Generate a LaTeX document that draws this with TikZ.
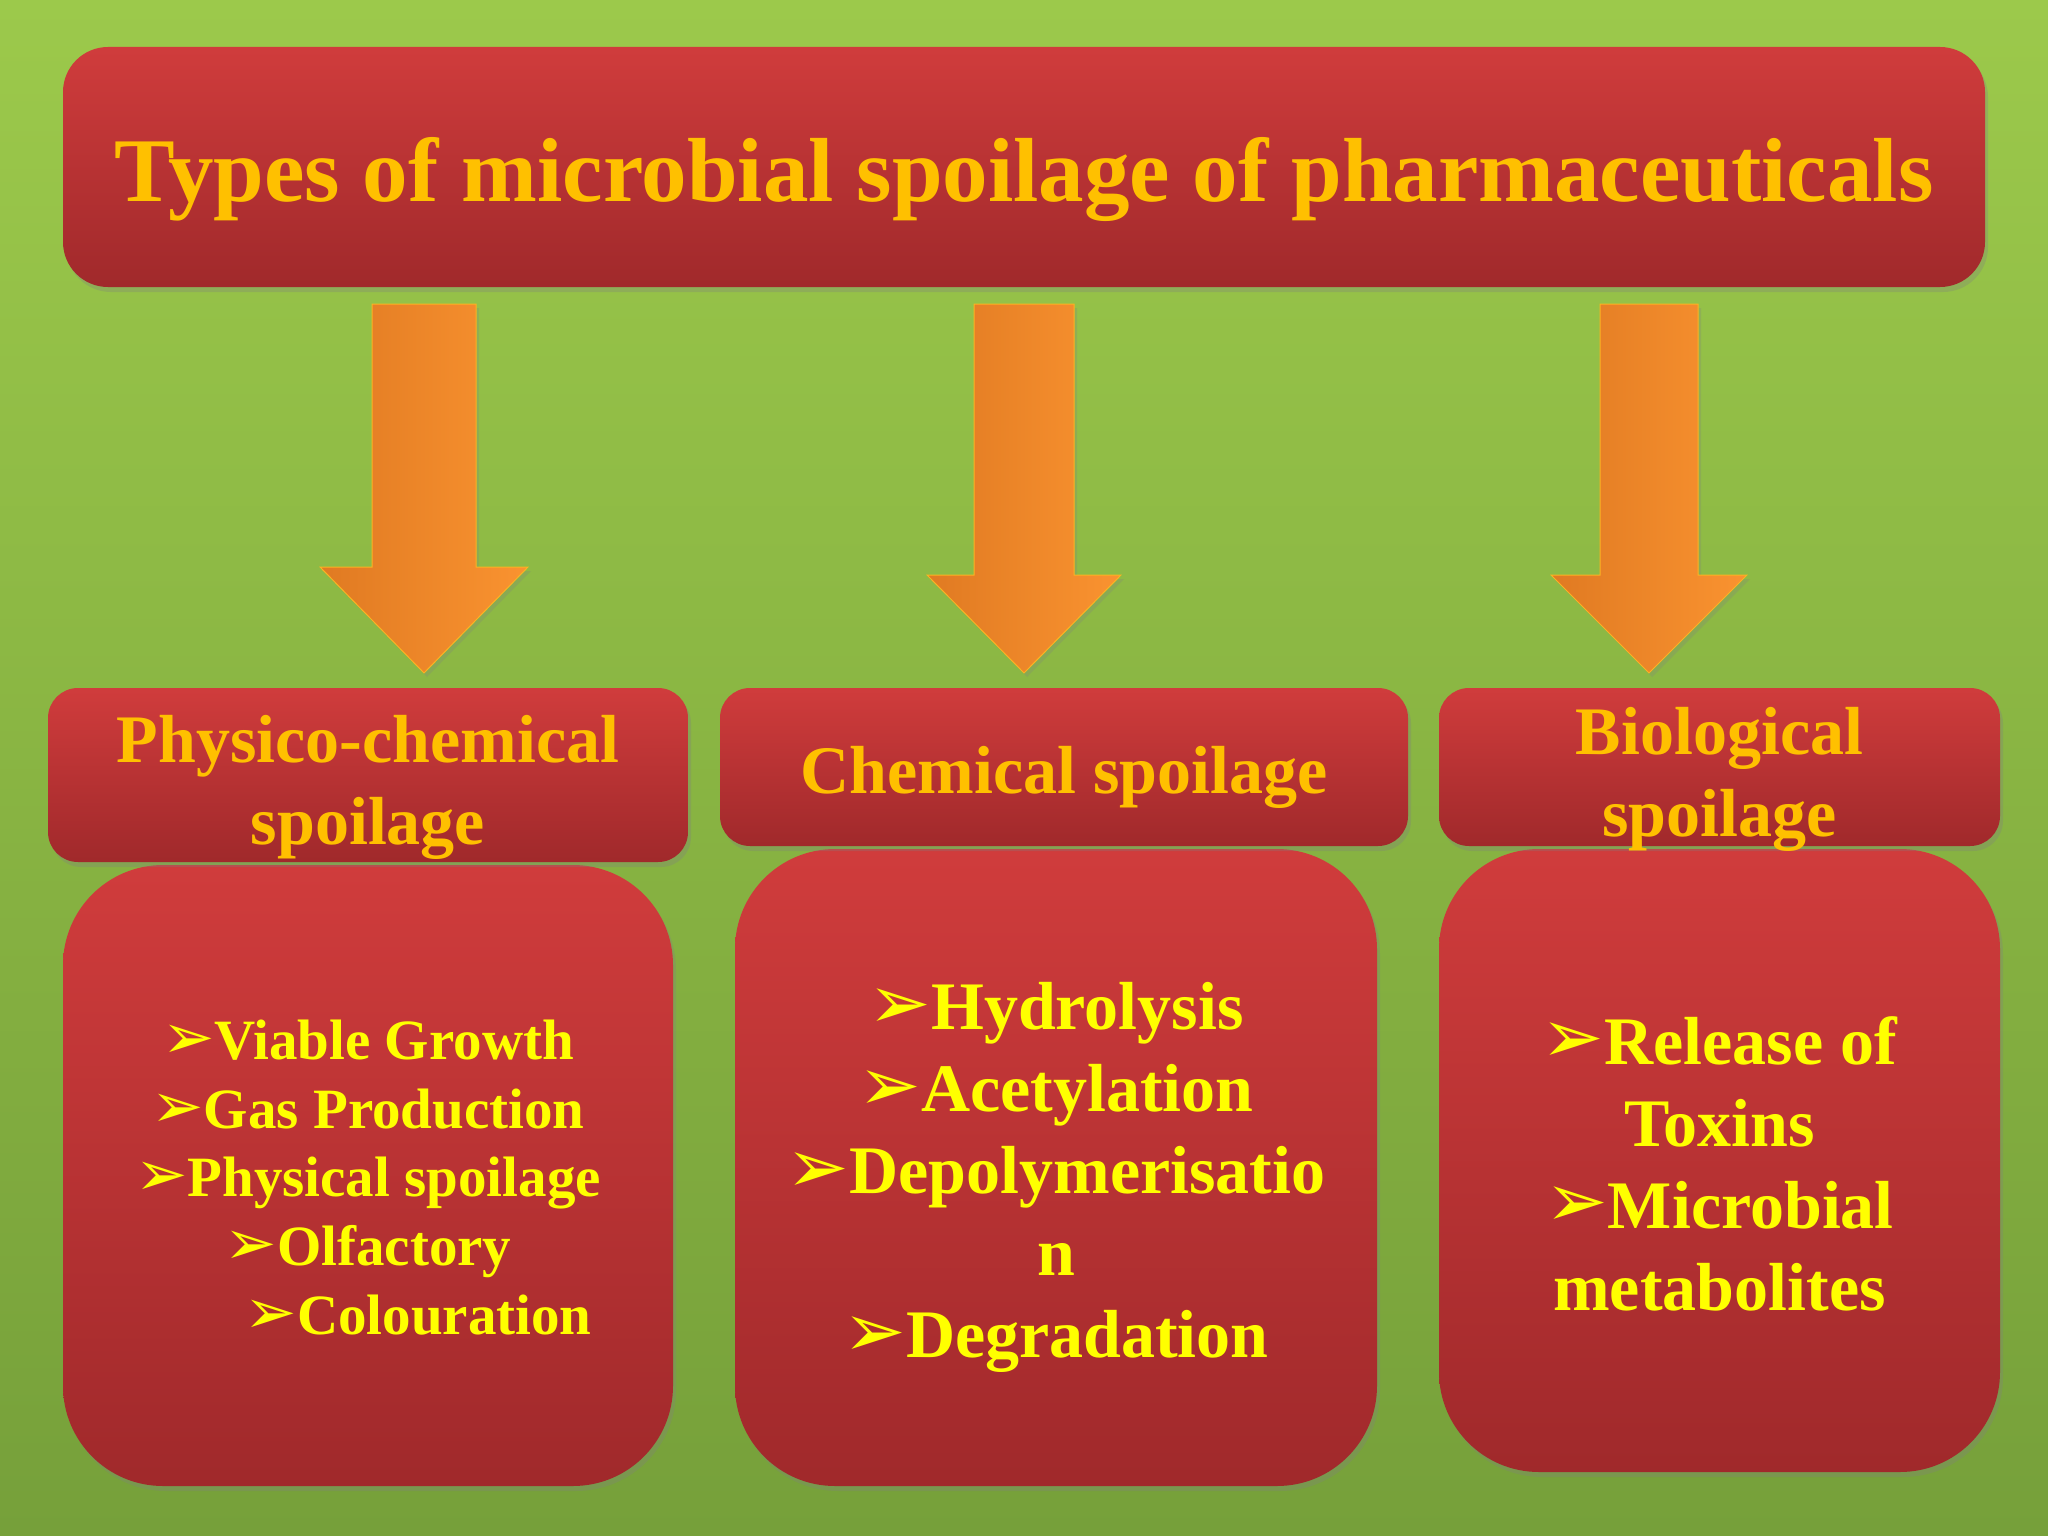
\documentclass[tikz,border=0pt]{standalone}
\usepackage{fontspec}
\usepackage{graphicx}
\setmainfont{Liberation Serif}
\newfontfamily\dingfont{DejaVu Sans}
\usepackage{tikz}
\usetikzlibrary{shadows}
\definecolor{bgtop}{HTML}{9CC94B}
\definecolor{bgbot}{HTML}{76A03A}
\definecolor{boxtop}{HTML}{D03C3C}
\definecolor{boxbot}{HTML}{A0292B}
\definecolor{titleyel}{HTML}{FFC000}
\definecolor{listyel}{HTML}{FFFF00}
\definecolor{arrowdark}{HTML}{E07A22}
\definecolor{arrowlight}{HTML}{FA9330}
\newcommand{\bul}{{\dingfont\mdseries\raisebox{0.02em}{\scalebox{1.1}{➢}}}}

\begin{document}
\begin{tikzpicture}[x=1pt, y=-1pt,
        redbox/.style={rounded corners=#1, top color=boxtop, bottom color=boxbot,
            drop shadow={shadow xshift=3pt, shadow yshift=-5pt, opacity=0.3}, inner sep=0pt},
        headtext/.style={align=center, text=titleyel, font=\bfseries\fontsize{68}{82}\selectfont},
        listtext/.style={align=center, text=listyel, font=\bfseries\fontsize{68}{82}\selectfont}]
        \shade[top color=bgtop, bottom color=bgbot] (0,0) rectangle (2048,1536);
        \foreach \cx/\sw/\hw/\hy in {424/52/104/567, 1024/50/97/575, 1649/49/98/575}
            \shade[left color=arrowdark, right color=arrowlight, draw=arrowlight!70!yellow, line width=1pt,
                drop shadow={shadow xshift=3pt, shadow yshift=-4pt, opacity=0.25}]
                (\cx-\sw,304) -- (\cx+\sw,304) -- (\cx+\sw,\hy) -- (\cx+\hw,\hy)
                -- (\cx,673) -- (\cx-\hw,\hy) -- (\cx-\sw,\hy) -- cycle;
        \node[redbox=45, minimum width=1922, minimum height=240] (title) at (1024,167) {};
        \node[text=titleyel, font=\bfseries\fontsize{91}{100}\selectfont] (titletext)
            at ([yshift=-13pt]title.center) {Types of microbial spoilage of pharmaceuticals};
        \node[redbox=100, minimum width=610, minimum height=621] (physlist) at (368,1175.5) {};
        \node[redbox=100, minimum width=642, minimum height=637] (chemlist) at (1056,1167.5) {};
        \node[redbox=100, minimum width=561, minimum height=623] (biolist) at (1719.5,1160.5) {};
        \node[listtext, font=\bfseries\fontsize{57}{68.6}\selectfont] (physitems)
            at ([yshift=-2pt]physlist.center)
            {\bul Viable Growth\\ \bul Gas Production\\ \bul Physical spoilage\\
             \bul Olfactory\\ \hspace*{100pt}\bul Colouration};
        \node[listtext] (chemitems) at ([yshift=-10pt]chemlist.center)
            {\bul Hydrolysis\\ \bul Acetylation\\ \bul Depolymerisatio\\ n\\ \bul Degradation};
        \node[listtext] (bioitems) at ([yshift=-3pt]biolist.center)
            {\bul Release of\\ Toxins\\ \bul Microbial\\ metabolites};
        \node[redbox=30, minimum width=640, minimum height=174] (phys) at (368,775) {};
        \node[redbox=30, minimum width=688, minimum height=158] (chem) at (1064,767) {};
        \node[redbox=30, minimum width=561, minimum height=158] (bio) at (1719.5,767) {};
        \node[headtext] (physhead) at ([yshift=-12pt]phys.center) {Physico-chemical\\ spoilage};
        \node[headtext] (chemhead) at ([yshift=-10pt]chem.center) {Chemical spoilage};
        \node[headtext] (biohead) at ([yshift=-12pt]bio.center) {Biological\\ spoilage};
    \end{tikzpicture}
\end{document}
